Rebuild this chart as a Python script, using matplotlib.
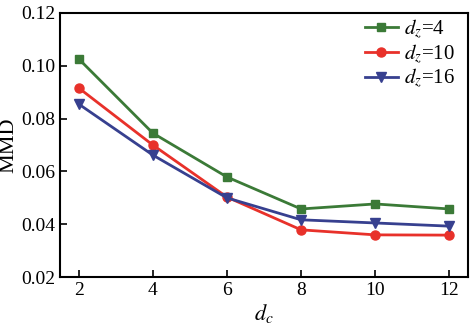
import numpy as np
import matplotlib.pyplot as plt

plt.rcParams['font.family'] = 'Liberation Serif'
plt.rcParams['mathtext.fontset'] = 'stix'

dc = [2, 4, 6, 8, 10, 12]
mmd_dz4 = [0.1026, 0.0745, 0.0579, 0.0458, 0.0477, 0.0458]
mmd_dz10 = [0.0916, 0.0700, 0.0503, 0.0379, 0.0360, 0.0359]
mmd_dz16 = [0.0855, 0.0662, 0.0500, 0.0417, 0.0405, 0.0393]
labels = ['$d_z$=4', '$d_z$=10', '$d_z$=16']

fig = plt.figure(figsize=(4.74, 3.23), dpi=100)
ax = fig.add_axes([0.127, 0.142, 0.860, 0.818])

ax.plot(dc, mmd_dz4, color='#3b7a37', marker='s', ms=6, lw=2, label=labels[0])
ax.plot(dc, mmd_dz10, color='#e8312a', marker='o', ms=6.5, lw=2, label=labels[1])
ax.plot(dc, mmd_dz16, color='#37408f', marker='v', ms=6.5, lw=2, label=labels[2])

ax.set_xlim(1.5, 12.5)
ax.set_ylim(0.02, 0.12)
ax.set_xticks(dc)
ax.set_yticks([0.02, 0.04, 0.06, 0.08, 0.10, 0.12])
ax.set_yticklabels(['0.02', '0.04', '0.06', '0.08', '0.10', '0.12'])
ax.tick_params(direction='in', labelsize=14, width=1.2, length=5)
for s in ax.spines.values():
    s.set_linewidth(1.5)
ax.set_xlabel('$d_c$', fontsize=16, labelpad=2)
ax.set_ylabel('MMD', fontsize=16, labelpad=2)

ax.legend(frameon=False, fontsize=15, loc='upper right', bbox_to_anchor=(1.0, 1.03),
          handlelength=1.6, handletextpad=0.3, labelspacing=0.05, borderaxespad=0.2)

fig.savefig('out.png', dpi=100)
